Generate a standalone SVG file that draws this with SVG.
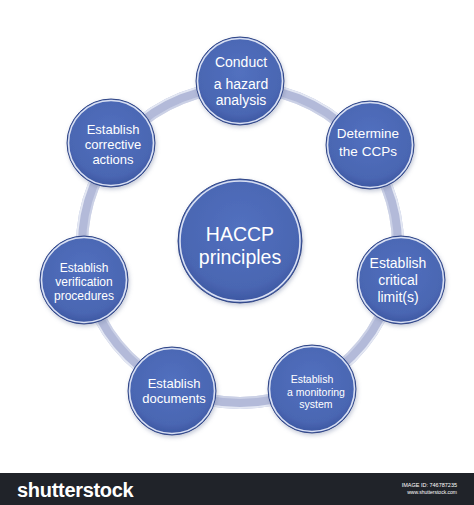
<svg xmlns="http://www.w3.org/2000/svg" width="474" height="505" viewBox="0 0 474 505">
  <defs>
    <radialGradient id="nodeFill" cx="50%" cy="40%" r="60%">
      <stop offset="0" stop-color="#5270bf"/>
      <stop offset="0.8" stop-color="#4a66b2"/>
      <stop offset="1" stop-color="#3b55a0"/>
    </radialGradient>
    <filter id="shadow" x="-20%" y="-20%" width="140%" height="140%">
      <feDropShadow dx="1" dy="2" stdDeviation="2" flood-color="#7a86a8" flood-opacity="0.45"/>
    </filter>
  </defs>
  <style>
    .node circle.body { fill: url(#nodeFill); stroke: #2f4585; stroke-width: 1; filter: url(#shadow); }
    .node circle.rim { fill: none; stroke: #d9e0f3; stroke-width: 1.6; }
    .node text { fill: #ffffff; font-family: "Liberation Sans", Arial, sans-serif; text-anchor: middle; }
    .ring { fill: none; stroke: #b3bad9; stroke-width: 12; }
    .ringhi { fill: none; stroke: #e3e7f3; stroke-width: 2; }
    .footer text { font-family: "Liberation Sans", Arial, sans-serif; fill: #ffffff; }
  </style>
  <rect width="474" height="505" fill="#ffffff"/>

  <g id="connectors">
    <circle class="ring" cx="240" cy="245" r="158"/>
    <circle class="ringhi" cx="240" cy="245" r="163"/>
    <circle class="ringhi" cx="240" cy="245" r="153" stroke-opacity="0.5"/>
  </g>

  <g id="node-center" class="node">
    <circle class="body" cx="240" cy="241" r="62"/>
    <circle class="rim" cx="240" cy="241" r="60"/>
    <text x="240" y="241" font-size="19.5">HACCP</text>
    <text x="240" y="264" font-size="19.5">principles</text>
  </g>

  <g id="node-hazard" class="node">
    <circle class="body" cx="240" cy="81" r="44"/>
    <circle class="rim" cx="240" cy="81" r="42.5"/>
    <text x="241" y="67" font-size="14">Conduct</text>
    <text x="241" y="89" font-size="14">a hazard</text>
    <text x="241" y="105" font-size="14">analysis</text>
  </g>

  <g id="node-ccps" class="node">
    <circle class="body" cx="370" cy="145" r="44"/>
    <circle class="rim" cx="370" cy="145" r="42.5"/>
    <text x="368" y="138" font-size="13.5">Determine</text>
    <text x="368" y="156" font-size="13.5">the CCPs</text>
  </g>

  <g id="node-limits" class="node">
    <circle class="body" cx="401" cy="280" r="44"/>
    <circle class="rim" cx="401" cy="280" r="42.5"/>
    <text x="398" y="268" font-size="14">Establish</text>
    <text x="398" y="285" font-size="14">critical</text>
    <text x="398" y="302" font-size="14">limit(s)</text>
  </g>

  <g id="node-monitoring" class="node">
    <circle class="body" cx="312" cy="389" r="44"/>
    <circle class="rim" cx="312" cy="389" r="42.5"/>
    <text x="312" y="383" font-size="10.5">Establish</text>
    <text x="316" y="396" font-size="10.5">a monitoring</text>
    <text x="316" y="408" font-size="10.5">system</text>
  </g>

  <g id="node-documents" class="node">
    <circle class="body" cx="172" cy="391" r="44"/>
    <circle class="rim" cx="172" cy="391" r="42.5"/>
    <text x="174" y="388" font-size="13">Establish</text>
    <text x="174" y="403" font-size="13">documents</text>
  </g>

  <g id="node-verification" class="node">
    <circle class="body" cx="84" cy="280" r="44"/>
    <circle class="rim" cx="84" cy="280" r="42.5"/>
    <text x="84" y="272" font-size="12">Establish</text>
    <text x="84" y="286" font-size="12">verification</text>
    <text x="84" y="300" font-size="12">procedures</text>
  </g>

  <g id="node-corrective" class="node">
    <circle class="body" cx="111" cy="143" r="44"/>
    <circle class="rim" cx="111" cy="143" r="42.5"/>
    <text x="113" y="134" font-size="13">Establish</text>
    <text x="113" y="149" font-size="13">corrective</text>
    <text x="113" y="164" font-size="13">actions</text>
  </g>

  <g id="footer" class="footer">
    <rect x="0" y="473" width="474" height="32" fill="#202329"/>
    <text x="17" y="497" font-size="20" font-weight="bold" letter-spacing="-0.3">shutterstock</text>
    <text x="457" y="487" font-size="5.5" text-anchor="end">IMAGE ID: 746787235</text>
    <text x="457" y="494" font-size="5" text-anchor="end" fill="#cfd2d8">www.shutterstock.com</text>
  </g>
</svg>
